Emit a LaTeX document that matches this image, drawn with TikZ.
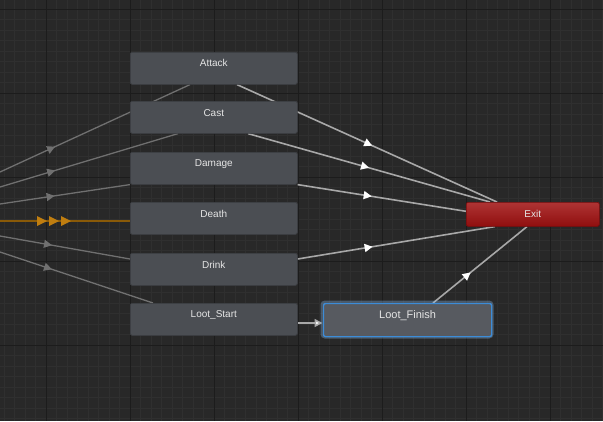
\documentclass[tikz,border=0pt]{standalone}
\usepackage{fontspec}
\setmainfont{Liberation Sans}
\usetikzlibrary{arrows.meta,decorations.markings,calc}
\definecolor{bg}{HTML}{282828}
\definecolor{gridminor}{HTML}{2F2F2F}
\definecolor{gridmajor}{HTML}{1C1C1C}
\definecolor{statefill}{HTML}{4B4E53}
\definecolor{selfill}{HTML}{575A60}
\definecolor{stateedge}{HTML}{3A3C40}
\definecolor{exitfill}{HTML}{A01010}
\definecolor{inedge}{HTML}{707070}
\definecolor{outedge}{HTML}{A8A8A8}
\definecolor{deathcol}{HTML}{8A5A08}
\definecolor{deatharrow}{HTML}{C07E10}
\definecolor{selblue}{HTML}{3C8CD8}
\tikzset{
  x=1pt,y=-1pt,
  state/.style={draw=stateedge,fill=statefill,rounded corners=2pt,minimum width=167pt,minimum height=32pt,inner sep=0pt,anchor=north west,line width=0.6pt},
  selstate/.style={state,draw=selblue,line width=1.2pt,fill=selfill,minimum width=168pt,minimum height=33pt},
  exitst/.style={state,draw=exitfill!70!black,top color=exitfill!85!white,bottom color=exitfill!90!black,minimum width=133pt,minimum height=24pt},
  lbl/.style={text=white!90!black,font=\fontsize{10}{12}\selectfont,inner sep=0pt},
  inline/.style={draw=inedge,line width=1.3pt},
  outline/.style={draw=outedge,line width=1.6pt},
  marrow/.style 2 args={postaction={decorate},decoration={markings,mark=at position #1 with {\arrow[#2]{Triangle[length=8pt,width=8pt]}}}}
}
\begin{document}
\begin{tikzpicture}
\fill[bg] (0,0) rectangle (603,421);
\useasboundingbox (0,0) rectangle (603,421);
\foreach \i in {0,...,60}{
  \draw[gridminor,line width=0.5pt] ({4+10.5*\i},0) -- ({4+10.5*\i},421);
  \draw[gridminor,line width=0.5pt] (0,{9+10.5*\i}) -- (603,{9+10.5*\i});
}
\foreach \i in {0,...,7}{
  \draw[gridmajor,line width=0.8pt] ({46+84*\i},0) -- ({46+84*\i},421);
  \draw[gridmajor,line width=0.8pt] (0,{9+84*\i}) -- (603,{9+84*\i});
}
% boxes (positions for connectors)
\path node[state] (attack) at (130,52) {}
      node[state] (cast) at (130,101) {}
      node[state] (damage) at (130,152) {}
      node[state] (death) at (130,202) {}
      node[state] (drink) at (130,253) {}
      node[state] (lootstart) at (130,303) {}
      node[selstate] (lootfinish) at (323,303) {}
      node[exitst] (exit) at (466,202) {};
\coordinate (ia) at (0,172);
\coordinate (ic) at (0,187);
\coordinate (id) at (0,204);
\coordinate (ie) at (0,221);
\coordinate (ik) at (0,236);
\coordinate (il) at (0,252);
% connectors
\path[inline,marrow={0.29}{inedge}] (ia) -- ($(attack.south west)+(60,0)$);
\path[inline,marrow={0.31}{inedge}] (ic) -- ($(cast.south west)+(48,0)$);
\path[inline,marrow={0.42}{inedge}] (id) -- (damage.south west);
\draw[deathcol,line width=1.6pt] (ie) -- (death.west |- ie);
\foreach \px in {42,54,66}{\fill[deatharrow] (\px-5,216) -- (\px+5,221) -- (\px-5,226) -- cycle;}
\path[inline,marrow={0.4}{inedge}] (ik) -- ($(drink.north west)+(0,6)$);
\path[inline,marrow={0.34}{inedge}] (il) -- ($(lootstart.north west)+(23,0)$);
\path[outline,marrow={0.52}{white}] ($(attack.south west)+(107,0)$) -- ($(exit.north west)+(31,0)$);
\path[outline,marrow={0.5}{white}] ($(cast.south west)+(118,0)$) -- ($(exit.north west)+(24,0)$);
\path[outline,marrow={0.44}{white}] (damage.south east) -- ($(exit.west)+(0,-3)$);
\path[outline,marrow={0.38}{white}] ($(drink.north east)+(0,6)$) -- ($(exit.south west)+(29,0)$);
\path[outline,marrow={0.4}{white}] ($(lootfinish.north west)+(110,0)$) -- ($(exit.south west)+(61,0)$);
\path[outline,-{Triangle[length=8pt,width=8pt,fill=white]},shorten >=0.5pt] (lootstart.east |- 0,323) -- (lootfinish.west |- 0,323);
% redraw boxes on top, with labels
\node[state] at (130,52) {};
\node[state] at (130,101) {};
\node[state] at (130,152) {};
\node[state] at (130,202) {};
\node[state] at (130,253) {};
\node[state] at (130,303) {};
\draw[selblue!60,line width=3pt,opacity=0.35,rounded corners=3pt] (322,302) rectangle (492,337);
\node[selstate] at (323,303) {};
\node[exitst] at (466,202) {};
\node[lbl] at ($(attack.north)+(0,11)$) {Attack};
\node[lbl] at ($(cast.north)+(0,12)$) {Cast};
\node[lbl] at ($(damage.north)+(0,12)$) {Damage};
\node[lbl] at ($(death.north)+(0,12)$) {Death};
\node[lbl] at ($(drink.north)+(0,12)$) {Drink};
\node[lbl] at ($(lootstart.north)+(0,12)$) {Loot\_Start};
\node[lbl,font=\fontsize{11}{13}\selectfont] at ($(lootfinish.north)+(0,13)$) {Loot\_Finish};
\node[lbl] at (exit.center) {Exit};
\end{tikzpicture}
\end{document}
